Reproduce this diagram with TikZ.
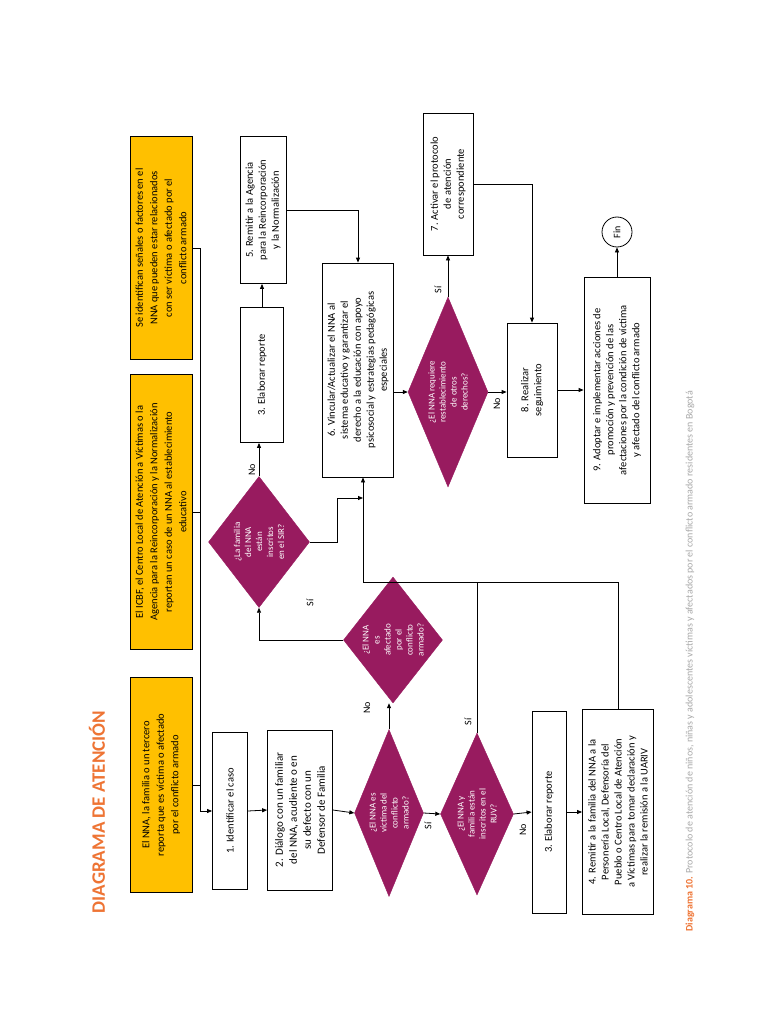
\documentclass[tikz,border=0pt]{standalone}
\usepackage{fontspec}
\setmainfont{Carlito}
\usetikzlibrary{shapes.geometric,arrows.meta}
\definecolor{ybg}{HTML}{FFC000}
\definecolor{purp}{HTML}{981B5F}
\definecolor{orng}{HTML}{EE7434}
\definecolor{capg}{HTML}{A8A8A8}
\begin{document}
\begin{tikzpicture}[x=1pt,y=-1pt,
  box/.style={draw, thick, rotate=90, align=center, inner sep=2pt, font=\fontsize{10.5}{13}\selectfont, fill=white},
  yel/.style={box, fill=ybg, font=\fontsize{10.5}{14.5}\selectfont},
  dia/.style={diamond, rotate=90, fill=purp, inner sep=0pt, draw=purp},
  dt/.style={rotate=90, align=center, text=white, font=\fontsize{9}{11}\selectfont},
  lab/.style={rotate=90, font=\fontsize{10}{12}\selectfont},
  arr/.style={thick, -{Triangle[length=5pt,width=4pt]}},
  ln/.style={thick}]
\useasboundingbox (0,0) rectangle (768,1024);
\node[rotate=90, text=orng, font=\fontsize{19}{22}\selectfont\bfseries] (title) at (97,812) {DIAGRAMA DE ATENCIÓN};
\node[yel, minimum width=215pt, minimum height=62pt] (y1) at (161,785) {El NNA, la familia o un tercero\\reporta que es víctima o afectado\\por el conflicto armado};
\node[yel, minimum width=275pt, minimum height=62pt] (y2) at (161,512) {El ICBF, el  Centro Local de Atención a Víctimas o la\\Agencia para la Reincorporación y la Normalización\\reportan un caso de un NNA al establecimiento\\educativo};
\node[yel, minimum width=223pt, minimum height=62pt] (y3) at (161,248) {Se identifican señales o factores en el\\NNA que pueden estar relacionados\\con ser víctima o afectado por el\\conflicto armado};
\node[box, minimum width=157pt, minimum height=35pt] (b1) at (230,811) {1. Identificar el caso};
\node[box, minimum width=160pt, minimum height=65pt, font=\fontsize{11}{14}\selectfont] (b2) at (300,810) {2. Diálogo con un familiar\\del NNA, acudiente o en\\su defecto con un\\Defensor de Familia};
\node[dia, minimum width=167pt, minimum height=69pt] (d1) at (389,813) {};
\node[dt] at (d1) {¿El NNA es\\víctima del\\conflicto\\armado?};
\node[dia, minimum width=162pt, minimum height=73pt] (d2) at (477,814) {};
\node[dt] at (d2) {¿El NNA y\\familia están\\inscritos en el\\RUV?};
\node[box, minimum width=202pt, minimum height=34pt] (b3a) at (549,812) {3. Elaborar reporte};
\node[box, minimum width=205pt, minimum height=71pt] (b4) at (618,812) {4. Remitir a la familia del NNA a la\\Personería Local, Defensoría del\\Pueblo o Centro Local de Atención\\a Víctimas para tomar declaración y\\realizar la remisión a la UARIV};
\node[dia, minimum width=126pt, minimum height=99pt] (d3) at (393,640) {};
\node[dt] at (d3) {¿El NNA\\es\\afectado\\por el\\conflicto\\armado?};
\node[dia, minimum width=131pt, minimum height=101pt] (d4) at (259,542) {};
\node[dt] at (d4) {¿La familia\\del  NNA\\están\\inscritos\\en el SIR?};
\node[box, minimum width=135pt, minimum height=43pt] (b3b) at (262,375) {3. Elaborar reporte};
\node[box, minimum width=147pt, minimum height=46pt] (b5) at (263,210) {5. Remitir a la Agencia\\para la Reincorporación\\y la Normalización};
\node[box, minimum width=214pt, minimum height=71pt] (b6) at (358,370) {6. Vincular/Actualizar el NNA al\\sistema educativo y  garantizar el\\derecho a la educación con apoyo\\psicosocial y estrategias pedagógicas\\especiales};
\node[dia, minimum width=190pt, minimum height=80pt] (d5) at (448,392) {};
\node[dt] at (d5) {¿El NNA requiere\\restablecimiento\\de otros\\derechos?};
\node[box, minimum width=142pt, minimum height=50pt] (b7) at (448,184) {7. Activar el protocolo\\de atención\\correspondiente};
\node[box, minimum width=134pt, minimum height=50pt] (b8) at (532,390) {8. Realizar\\seguimiento};
\node[box, minimum width=226pt, minimum height=66pt] (b9) at (617,390) {9. Adoptar e implementar acciones de\\promoción y prevención de las\\afectaciones por la condición de víctima\\y afectado del conflicto armado};
\node[circle, draw, thick, minimum size=30pt, inner sep=0pt, rotate=90, font=\fontsize{10}{12}\selectfont] (fin) at (617,232) {Fin};
% caption
\node[rotate=90, anchor=west, font=\fontsize{10}{12}\selectfont, text=capg] (cap) at (690,935) {{\color{orng}\bfseries Diagrama 10.} Protocolo de atención de niños, niñas y adolescentes víctimas y afectados por el conflicto armado residentes en Bogotá};
% connectors
\coordinate (sp) at (200,811);
\coordinate (j) at (363,582);
\coordinate (k) at (363,498);
\draw[ln] (y3.south) -| (sp);
\draw[ln] (y2.south) -- (y2.south -| sp);
\draw[ln] (y1.south) -- (y1.south -| sp);
\draw[arr] (sp) -- (b1.north);
\draw[arr] (b1.south) -- (b2.north);
\draw[arr] (b2.south) -- (d1.north);
\draw[arr] (d1.south) -- (d2.north);
\draw[arr] (d2.south) -- (b3a.north);
\draw[arr] (b3a.south) -- (b4.north);
\draw[arr] (d1.east) -- (d1.east |- d3.west);
\draw[arr] (d3.north) -| (d4.west);
\draw[ln] (d2.east) |- (j);
\draw[ln] (b4.east) |- (j);
\draw[arr] (j) -- (j |- b6.west);
\draw[arr] (d4.south) -- ++(28,0) |- (k);
\draw[arr] (d4.east) -- (d4.east |- b3b.west);
\draw[arr] (b3b.east) -- (b3b.east |- b5.west);
\draw[arr] (b5.south) -| (b6.east);
\draw[arr] (b6.south |- d5) -- (d5.north);
\draw[arr] (d5.east) -- (d5.east |- b7.west);
\draw[arr] (d5.south) -- (d5.south -| b8.north);
\draw[arr] (b7.south) -| (b8.east);
\draw[arr] (b8.south) -- (b8.south -| b9.north);
\draw[arr] (b9.east) -- (fin);
% labels
\node[lab] at (428,826) {Sí};
\node[lab] at (523,830) {No};
\node[lab] at (367,708) {No};
\node[lab] at (468,722) {Sí};
\node[lab] at (310,603) {Sí};
\node[lab] at (252,470) {No};
\node[lab] at (438,290) {Sí};
\node[lab] at (497,404) {No};
\end{tikzpicture}
\end{document}
